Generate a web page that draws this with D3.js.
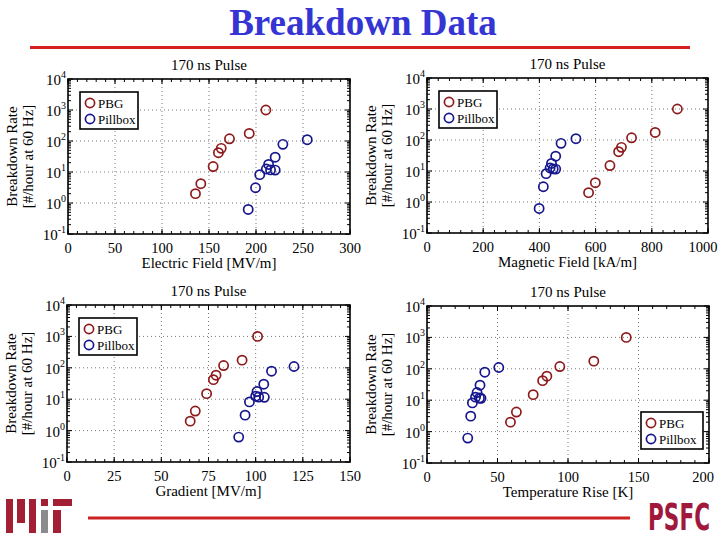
<!DOCTYPE html>
<html>
<head>
<meta charset="utf-8">
<script src="https://cdn.jsdelivr.net/npm/d3@7"></script>
<style>
  body { margin: 0; background: #fff; }
  svg { display: block; font-family: "Liberation Serif", "Times New Roman", serif; }
</style>
</head>
<body>
<svg id="chart" width="720" height="540"></svg>
<script>
// breakdown rate [#/hour at 60 Hz], same shots in every panel
const pbgRate = [2, 4.2, 15, 42, 58, 118, 175, 1000]
const pillboxRate = [0.62, 3.1, 8.2, 12.5, 17.5, 11.7, 30, 11.5, 78, 110]

// electric field [MV/m]
const pbgE = [135.6, 141.3, 154.4, 160, 163, 171.8, 192.8, 210.5]
const pillboxE = [191.7, 199.5, 204, 211, 213.4, 215.5, 220.4, 220.4, 228.6, 254.5]
// magnetic field [kA/m]
const pbgH = [575, 599, 651, 682, 692, 728, 812, 891]
const pillboxH = [399, 414, 424, 438, 443, 449, 458, 458, 477, 530]
// gradient [MV/m]
const pbgG = [65.3, 68, 74, 77.6, 79, 83, 92.8, 101]
const pillboxG = [91, 94.4, 96.7, 100, 100.7, 101.6, 104.3, 104.6, 108.4, 120.3]
// temperature rise [K]
const pbgT = [59.2, 63.4, 75.3, 82, 85, 94.2, 118.3, 141.3]
const pillboxT = [28.9, 31, 32.2, 34.4, 35.5, 37.2, 37.6, 38.3, 41, 50.9]

const seriesNames = ['PBG', 'Pillbox']
const seriesColors = ['#8e1b1b', '#16168e']
const yTicks = [-1, 0, 1, 2, 3, 4] // powers of ten

const svg = d3.select('#chart')

//// header and footer
svg.append('text')
  .attr('x', 363).attr('y', 35)
  .attr('text-anchor', 'middle')
  .attr('font-size', 37).attr('font-weight', 'bold')
  .attr('fill', '#3535d4')
  .text('Breakdown Data')
svg.append('line')
  .attr('x1', 30).attr('x2', 690).attr('y1', 47.5).attr('y2', 47.5)
  .attr('stroke', '#d42222').attr('stroke-width', 3)
svg.append('line')
  .attr('x1', 88).attr('x2', 630).attr('y1', 518).attr('y2', 518)
  .attr('stroke', '#cc2222').attr('stroke-width', 3)

// MIT logo
const mit = svg.append('g').attr('fill', '#a31f34')
;[[6, 499, 7, 34], [17, 499, 8, 24], [29, 499, 7, 34], [41, 499, 7, 7], [53, 499, 19, 7], [53, 510, 8, 23]]
  .forEach(r => mit.append('rect').attr('x', r[0]).attr('y', r[1]).attr('width', r[2]).attr('height', r[3]))
mit.append('rect').attr('x', 41).attr('y', 510).attr('width', 7).attr('height', 23).attr('fill', '#8a8b8c')

// PSFC logo, tall narrow lettering
svg.append('text')
  .attr('transform', 'translate(648,530) scale(1,1.4)')
  .attr('font-family', 'DejaVu Sans Condensed, DejaVu Sans')
  .attr('font-weight', 'bold')
  .attr('font-size', 26)
  .attr('textLength', 62).attr('lengthAdjust', 'spacingAndGlyphs')
  .attr('fill', '#a0183c')
  .text('PSFC')

//// panels
const panels = [
  { left: 68, right: 350, top: 79, bottom: 234, xDomain: [0, 300], xStep: 50, xLabel: 'Electric Field [MV/m]', pbg: pbgE, pillbox: pillboxE, legend: 'tl' },
  { left: 427, right: 708, top: 78, bottom: 233, xDomain: [0, 1000], xStep: 200, xLabel: 'Magnetic Field [kA/m]', pbg: pbgH, pillbox: pillboxH, legend: 'tl' },
  { left: 67, right: 350, top: 305, bottom: 462, xDomain: [0, 150], xStep: 25, xLabel: 'Gradient [MV/m]', pbg: pbgG, pillbox: pillboxG, legend: 'tl' },
  { left: 427, right: 709, top: 306, bottom: 463, xDomain: [0, 200], xStep: 50, xLabel: 'Temperature Rise [K]', pbg: pbgT, pillbox: pillboxT, legend: 'br' }
]

panels.forEach(drawPanel)

function drawPanel(p) {
  const g = svg.append('g')
  const x = d3.scaleLinear().domain(p.xDomain).range([p.left, p.right])
  const y = d3.scaleLog().domain([0.1, 1e4]).range([p.bottom, p.top])

  const xMajor = d3.range(p.xDomain[0], p.xDomain[1] + 1e-9, p.xStep)
  const xMinor = d3.range(p.xDomain[0], p.xDomain[1] + 1e-9, p.xStep / 5)
  const yMajor = yTicks.map(e => Math.pow(10, e))
  const yMinor = []
  yTicks.slice(0, -1).forEach(e => { for (let m = 2; m < 10; m++) yMinor.push(m * Math.pow(10, e)) })

  // dotted grid
  g.selectAll('.gx').data(xMajor.slice(1, -1)).join('line')
    .attr('x1', d => x(d)).attr('x2', d => x(d)).attr('y1', p.top).attr('y2', p.bottom)
    .attr('stroke', '#777').attr('stroke-width', 1).attr('stroke-dasharray', '1,3')
  g.selectAll('.gy').data(yMajor.slice(1, -1)).join('line')
    .attr('y1', d => y(d)).attr('y2', d => y(d)).attr('x1', p.left).attr('x2', p.right)
    .attr('stroke', '#777').attr('stroke-width', 1).attr('stroke-dasharray', '1,3')

  // inward ticks on all four sides
  const ticks = (vals, len, horiz) => {
    vals.forEach(v => {
      if (horiz) {
        const xx = x(v)
        g.append('line').attr('x1', xx).attr('x2', xx).attr('y1', p.bottom).attr('y2', p.bottom - len).attr('stroke', '#000')
        g.append('line').attr('x1', xx).attr('x2', xx).attr('y1', p.top).attr('y2', p.top + len).attr('stroke', '#000')
      } else {
        const yy = y(v)
        g.append('line').attr('y1', yy).attr('y2', yy).attr('x1', p.left).attr('x2', p.left + len).attr('stroke', '#000')
        g.append('line').attr('y1', yy).attr('y2', yy).attr('x1', p.right).attr('x2', p.right - len).attr('stroke', '#000')
      }
    })
  }
  ticks(xMinor, 3, true)
  ticks(xMajor, 5, true)
  ticks(yMinor, 3, false)
  ticks(yMajor, 5, false)

  g.append('rect')
    .attr('x', p.left).attr('y', p.top)
    .attr('width', p.right - p.left).attr('height', p.bottom - p.top)
    .attr('fill', 'none').attr('stroke', '#000').attr('stroke-width', 1.6)

  // x tick labels (last one kept inside the page)
  g.selectAll('.xl').data(xMajor).join('text')
    .attr('x', d => Math.min(x(d), 703)).attr('y', p.bottom + 19)
    .attr('text-anchor', 'middle').attr('font-size', 14.5)
    .text(d => d)

  // y tick labels 10^n
  yTicks.forEach(e => {
    const t = g.append('text')
      .attr('x', p.left - 2).attr('y', y(Math.pow(10, e)) + 6)
      .attr('text-anchor', 'end').attr('font-size', 15)
    t.append('tspan').text('10')
    t.append('tspan').attr('dy', -7).attr('font-size', 10).text(e)
  })

  // titles
  const cx = (p.left + p.right) / 2
  const cy = (p.top + p.bottom) / 2
  g.append('text').attr('x', cx).attr('y', p.top - 9)
    .attr('text-anchor', 'middle').attr('font-size', 15).text('170 ns Pulse')
  g.append('text').attr('x', cx).attr('y', p.bottom + 34)
    .attr('text-anchor', 'middle').attr('font-size', 15).text(p.xLabel)
  g.append('text')
    .attr('transform', `translate(${p.left - 51},${cy}) rotate(-90)`)
    .attr('text-anchor', 'middle').attr('font-size', 15).text('Breakdown Rate')
  g.append('text')
    .attr('transform', `translate(${p.left - 35},${cy}) rotate(-90)`)
    .attr('text-anchor', 'middle').attr('font-size', 15).text('[#/hour at 60 Hz]')

  // markers
  const sets = [[p.pbg, pbgRate], [p.pillbox, pillboxRate]]
  sets.forEach((s, i) => {
    g.selectAll('.m' + i).data(s[0].map((v, k) => [v, s[1][k]])).join('circle')
      .attr('cx', d => x(d[0])).attr('cy', d => y(d[1])).attr('r', 4.6)
      .attr('fill', 'none').attr('stroke', seriesColors[i]).attr('stroke-width', 1.7)
  })

  // legend
  const lw = p.legend === 'tl' ? 58 : 62
  const lh = 37
  const lx = p.legend === 'tl' ? p.left + 12 : p.right - 68
  const ly = p.legend === 'tl' ? p.top + 13 : p.bottom - 51
  const lg = g.append('g').attr('transform', `translate(${lx},${ly})`)
  lg.append('rect').attr('width', lw).attr('height', lh)
    .attr('fill', '#fff').attr('stroke', '#000').attr('stroke-width', 1.6)
  seriesNames.forEach((name, i) => {
    lg.append('circle').attr('cx', 10).attr('cy', 11 + i * 16).attr('r', 4.6)
      .attr('fill', 'none').attr('stroke', seriesColors[i]).attr('stroke-width', 1.7)
    lg.append('text').attr('x', 18).attr('y', 15.5 + i * 16)
      .attr('font-size', 13).text(name)
  })
}
</script>
</body>
</html>
